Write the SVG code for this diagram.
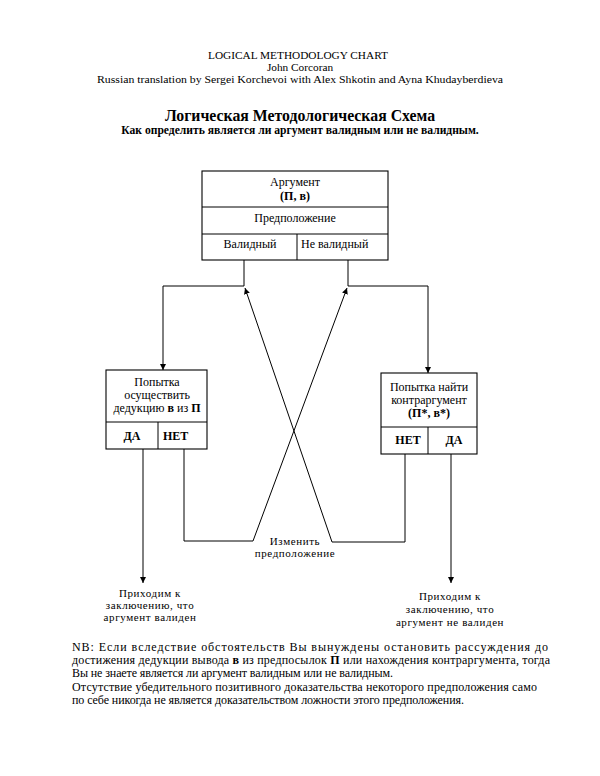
<svg xmlns="http://www.w3.org/2000/svg" width="600" height="776" viewBox="0 0 600 776">
<defs>
<style>
text{font-family:"Liberation Serif","Times New Roman",serif;font-size:12px;fill:#000}
.h{font-size:11.3px}
.n{font-size:11px;letter-spacing:0.6px}
.c{text-anchor:middle}
.b{font-weight:bold}
.t{font-size:15.8px;font-weight:bold}
.s{font-size:11.6px;font-weight:bold}
.box{fill:#fff;stroke:#000;stroke-width:1.1}
.ln{fill:none;stroke:#000;stroke-width:1}
</style>
<marker id="ah" viewBox="0 0 10 10" refX="10" refY="5" markerWidth="6" markerHeight="6" orient="auto" markerUnits="userSpaceOnUse">
<path d="M0,0 L10,5 L0,10 Z" fill="#000"/>
</marker>
</defs>
<rect width="600" height="776" fill="#fff"/>
<g id="header">
<text class="c h" x="298" y="59">LOGICAL METHODOLOGY CHART</text>
<text class="c h" x="300" y="71">John Corcoran</text>
<text class="c h" x="300" y="83" textLength="406" lengthAdjust="spacingAndGlyphs">Russian translation by Sergei Korchevoi with Alex Shkotin and Ayna Khudayberdieva</text>
<text class="c t" x="300" y="121">Логическая Методологическая Схема</text>
<text class="c s" x="300" y="134">Как определить является ли аргумент валидным или не валидным.</text>
</g>
<g id="connectors">
<polyline class="ln" points="244,260 244,286 163,286 163,370" marker-end="url(#ah)"/>
<polyline class="ln" points="348,260 348,286 428,286 428,373" marker-end="url(#ah)"/>
<polyline class="ln" points="184,449 184,541 253,541 347,288" marker-end="url(#ah)"/>
<polyline class="ln" points="405,454 405,542 332,542 245,288" marker-end="url(#ah)"/>
<line class="ln" x1="143" y1="449" x2="143" y2="583" marker-end="url(#ah)"/>
<line class="ln" x1="451" y1="454" x2="451" y2="583" marker-end="url(#ah)"/>
</g>
<g id="argument">
<rect class="box" x="202" y="171" width="186" height="89"/>
<line class="ln" x1="202" y1="207" x2="388" y2="207"/>
<line class="ln" x1="202" y1="234" x2="388" y2="234"/>
<line class="ln" x1="297" y1="234" x2="297" y2="260"/>
<text class="c" x="295" y="186">Аргумент</text>
<text class="c b" x="295" y="200">(П, в)</text>
<text class="c" x="295" y="222">Предположение</text>
<text class="c" x="250" y="248">Валидный</text>
<text x="301" y="248">Не валидный</text>
</g>
<g id="deduction">
<rect class="box" x="106" y="370" width="101" height="79"/>
<line class="ln" x1="106" y1="422" x2="207" y2="422"/>
<line class="ln" x1="158" y1="422" x2="158" y2="449"/>
<text class="c" x="157" y="386">Попытка</text>
<text class="c" x="157" y="399">осуществить</text>
<text class="c" x="157" y="412">дедукцию <tspan class="b">в</tspan> из <tspan class="b">П</tspan></text>
<text class="c b" x="132" y="440">ДА</text>
<text class="b" x="163" y="440">НЕТ</text>
</g>
<g id="counterargument">
<rect class="box" x="381" y="373" width="96" height="81"/>
<line class="ln" x1="381" y1="427" x2="477" y2="427"/>
<line class="ln" x1="428" y1="427" x2="428" y2="454"/>
<text class="c" x="429" y="391">Попытка найти</text>
<text class="c" x="429" y="404">контраргумент</text>
<text class="c b" x="429" y="417">(П*, в*)</text>
<text class="c b" x="408" y="444">НЕТ</text>
<text class="c b" x="454" y="444">ДА</text>
</g>
<g id="change">
<text class="c n" x="295" y="545">Изменить</text>
<text class="c n" x="295" y="557">предположение</text>
</g>
<g id="valid">
<text class="c n" x="150" y="597">Приходим к</text>
<text class="c n" x="150" y="609">заключению, что</text>
<text class="c n" x="150" y="621">аргумент валиден</text>
</g>
<g id="invalid">
<text class="c n" x="450" y="600">Приходим к</text>
<text class="c n" x="450" y="613">заключению, что</text>
<text class="c n" x="450" y="626">аргумент не валиден</text>
</g>
<g id="note">
<text x="72" y="651" textLength="476" lengthAdjust="spacing">NB: Если вследствие обстоятельств Вы вынуждены остановить рассуждения до</text>
<text x="72" y="664" textLength="478" lengthAdjust="spacing">достижения дедукции вывода <tspan class="b">в</tspan> из предпосылок <tspan class="b">П</tspan> или нахождения контраргумента, тогда</text>
<text x="72" y="677" textLength="321" lengthAdjust="spacing">Вы не знаете является ли аргумент валидным или не валидным.</text>
<text x="72" y="691" textLength="465" lengthAdjust="spacing">Отсутствие убедительного позитивного доказательства некоторого предположения само</text>
<text x="72" y="704" textLength="392" lengthAdjust="spacing">по себе никогда не является доказательством ложности этого предположения.</text>
</g>
</svg>
